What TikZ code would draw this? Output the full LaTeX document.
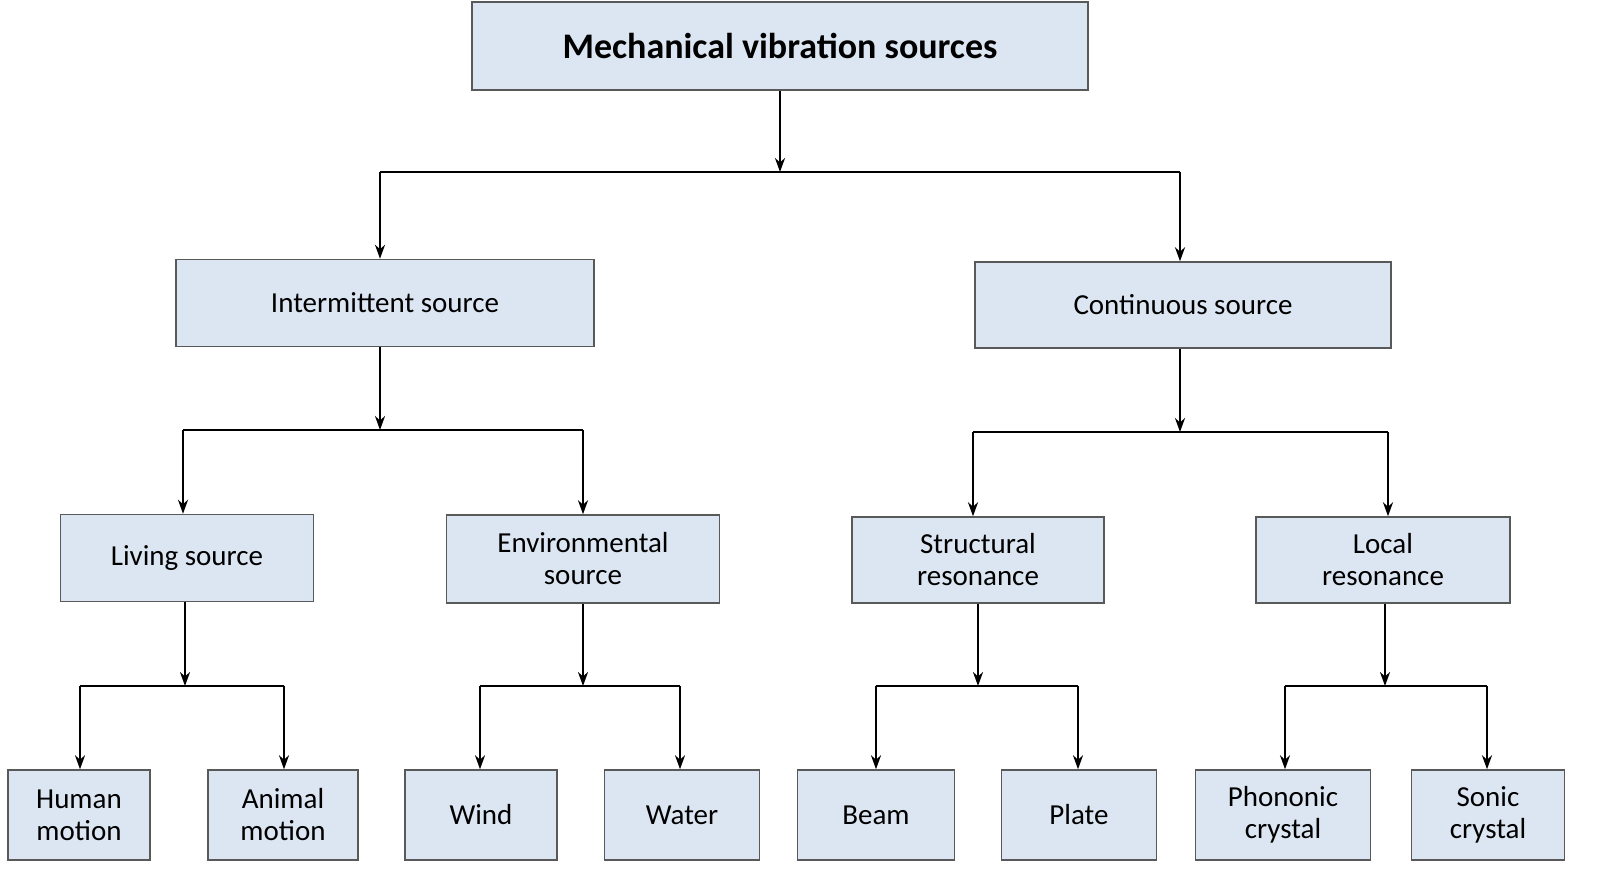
\documentclass[tikz,border=0pt]{standalone}
\usepackage{fontspec}
\setmainfont{Carlito}
\usetikzlibrary{arrows.meta}
\begin{document}
\begin{tikzpicture}[x=1pt,y=-1pt,
  box/.style={draw=black!65,line width=1.5pt,fill={rgb,255:red,220;green,230;blue,242},inner sep=0pt,
    font=\fontsize{29}{32}\selectfont,align=center},
  ln/.style={line width=2.6pt,black},
  ar/.style={ln,-{Stealth[length=14pt,width=10pt]}}]
\useasboundingbox (0,0) rectangle (1600,884);
\node[box,minimum width=616pt,minimum height=88pt,font=\fontsize{36}{40}\selectfont\bfseries] (top) at (780,46) {Mechanical vibration sources};
\node[box,minimum width=418pt,minimum height=87pt] (int) at (385,303) {Intermittent source};
\node[box,minimum width=416pt,minimum height=86pt] (con) at (1183,305) {Continuous source};
\node[box,minimum width=253pt,minimum height=87pt] (liv) at (187,558) {Living source};
\node[box,minimum width=273pt,minimum height=88pt] (env) at (583,559) {Environmental\\source};
\node[box,minimum width=252pt,minimum height=86pt] (str) at (978,560) {Structural\\resonance};
\node[box,minimum width=254pt,minimum height=86pt] (loc) at (1383,560) {Local\\resonance};
\foreach \n/\x/\w/\t in {hum/79/142/{Human\\motion},ani/283/150/{Animal\\motion},win/481/152/Wind,wat/682/155/Water,bea/876/157/Beam,pla/1079/155/Plate,pho/1283/175/{Phononic\\crystal},son/1488/153/{Sonic\\crystal}}
  \node[box,minimum width=\w pt,minimum height=90pt] (\n) at (\x,815) {\t};
% level 1
\coordinate (j1) at (780,172);
\draw[ar] (top.south -| j1) -- (j1);
\draw[ln] (380,172) -- (1180,172);
\draw[ar] (380,172) -- (int.north -| 380,0);
\draw[ar] (1180,172) -- (con.north -| 1180,0);
% intermittent
\coordinate (j2) at (380,430);
\draw[ar] (int.south -| j2) -- (j2);
\draw[ln] (183,430) -- (583,430);
\draw[ar] (183,430) -- (liv.north -| 183,0);
\draw[ar] (583,430) -- (env.north);
% continuous
\coordinate (j3) at (1180,432);
\draw[ar] (con.south -| j3) -- (j3);
\draw[ln] (973,432) -- (1388,432);
\draw[ar] (973,432) -- (str.north -| 973,0);
\draw[ar] (1388,432) -- (loc.north -| 1388,0);
% bottom level
\foreach \p/\a/\b/\c/\xa/\xb in {liv/hum/ani/185/80/284,env/win/wat/583/480/680,str/bea/pla/978/876/1078,loc/pho/son/1385/1285/1487}{
  \draw[ar] (\p.south -| \c,0) -- (\c,686);
  \draw[ln] (\xa,686) -- (\xb,686);
  \draw[ar] (\xa,686) -- (\a.north -| \xa,0);
  \draw[ar] (\xb,686) -- (\b.north -| \xb,0);
}
\end{tikzpicture}
\end{document}
